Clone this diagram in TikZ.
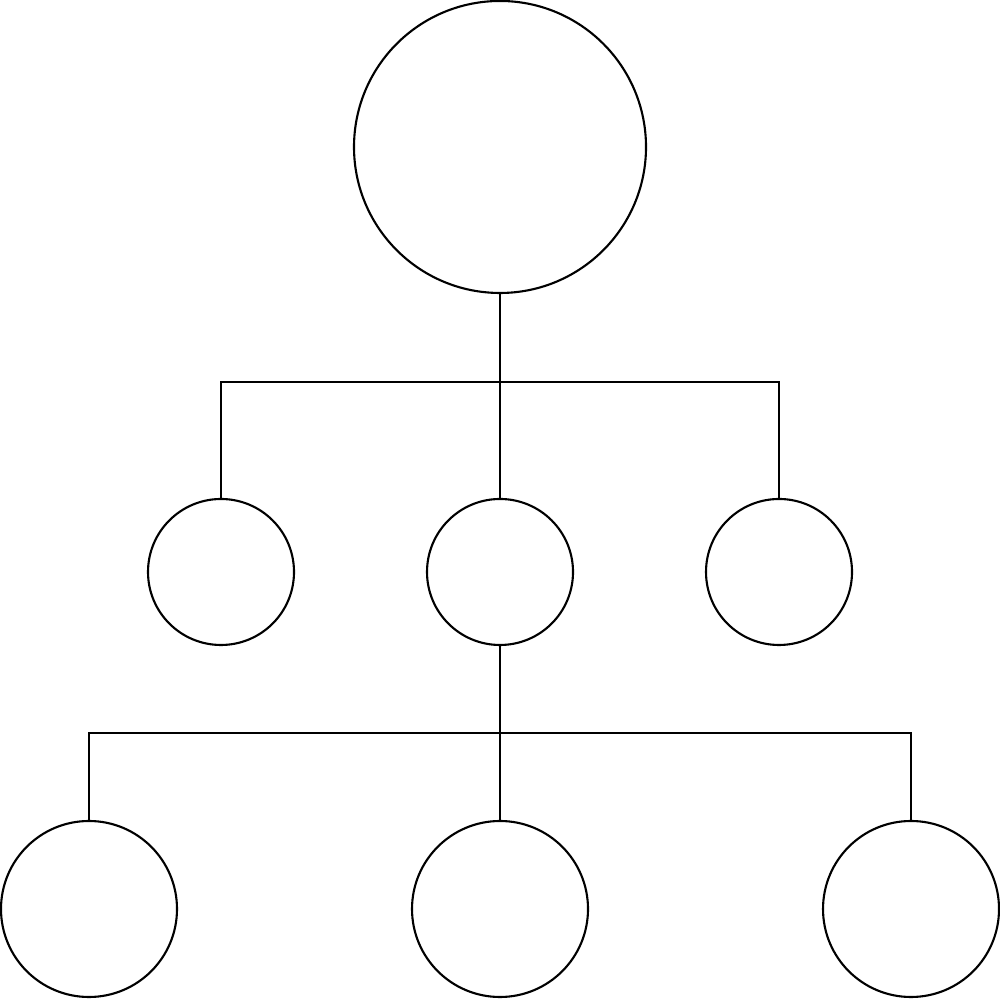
\documentclass[tikz,border=0pt]{standalone}
\usepackage{tikz}

\begin{document}
\begin{tikzpicture}[line width=0.6pt,
    dot/.style={draw, circle, inner sep=0pt, minimum size=#1}]
\useasboundingbox (0,0) rectangle (10,10);
% levels
\node[dot=2.92cm] (root) at (5,8.53) {};
\node[dot=1.46cm] (left) at (2.21,4.28) {};
\node[dot=1.46cm] (mid) at (5,4.28) {};
\node[dot=1.46cm] (right) at (7.79,4.28) {};
\node[dot=1.76cm] (leafa) at (0.89,0.91) {};
\node[dot=1.76cm] (leafb) at (5,0.91) {};
\node[dot=1.76cm] (leafc) at (9.11,0.91) {};
% bars
\coordinate (barone) at (5,6.18);
\coordinate (bartwo) at (5,2.67);
\draw (root) -- (barone);
\draw (left.north) |- (barone) -| (right.north);
\draw (barone) -- (mid);
\draw (mid) -- (bartwo);
\draw (leafa.north) |- (bartwo) -| (leafc.north);
\draw (bartwo) -- (leafb);
\end{tikzpicture}
\end{document}
